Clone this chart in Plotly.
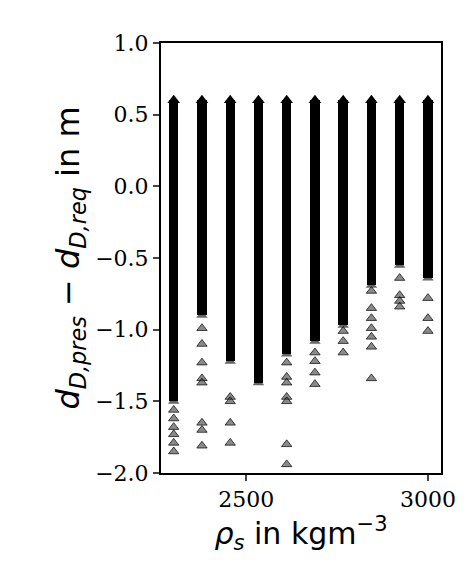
import plotly.graph_objects as go

rho = [2300, 2377.8, 2455.6, 2533.3, 2611.1, 2688.9, 2766.7, 2844.4, 2922.2, 3000]
dense_top = [0.6]*10
dense_bottom = [-1.5, -0.9, -1.22, -1.37, -1.17, -1.08, -0.97, -0.69, -0.55, -0.64]
outliers = [
    [-1.56, -1.62, -1.68, -1.73, -1.79, -1.85],
    [-0.99, -1.1, -1.23, -1.34, -1.37, -1.65, -1.70, -1.81],
    [-1.47, -1.5, -1.65, -1.79],
    [],
    [-1.23, -1.33, -1.37, -1.47, -1.5, -1.80, -1.94],
    [-1.16, -1.22, -1.30, -1.38],
    [-1.01, -1.08, -1.16],
    [-0.73, -0.85, -0.92, -0.99, -1.05, -1.12, -1.34],
    [-0.64, -0.76, -0.80, -0.84],
    [-0.78, -0.92, -1.01],
]

fig = go.Figure()
fig.add_trace(go.Bar(x=rho, y=[t - b for t, b in zip(dense_top, dense_bottom)], base=dense_bottom,
                     width=26, marker=dict(color="black", line=dict(width=0)), showlegend=False))
fig.add_trace(go.Scatter(x=rho, y=dense_top, mode="markers",
                         marker=dict(symbol="triangle-up", size=11, color="black"), showlegend=False))
fig.add_trace(go.Scatter(x=rho, y=dense_bottom, mode="markers",
                         marker=dict(symbol="triangle-up", size=10, color="rgba(0,0,0,0.6)"), showlegend=False))
ox, oy = [], []
for x, vals in zip(rho, outliers):
    for v in vals:
        ox.append(x); oy.append(v)
fig.add_trace(go.Scatter(x=ox, y=oy, mode="markers",
                         marker=dict(symbol="triangle-up", size=9, color="rgba(60,60,60,0.6)",
                                     line=dict(color="rgba(0,0,0,0.7)", width=1)), showlegend=False))

serif = "DejaVu Serif"
fig.update_layout(
    width=474, height=585, plot_bgcolor="white", paper_bgcolor="white",
    margin=dict(l=153, r=41, t=35, b=120, autoexpand=False), bargap=0,
    xaxis=dict(range=[2265, 3036], tickvals=[2500, 3000], ticks="outside", ticklen=6, tickwidth=2,
               automargin=False,
               showline=True, linecolor="black", linewidth=2, mirror=True, showgrid=False, zeroline=False,
               tickfont=dict(family=serif, size=22, color="black"),
               title=dict(text="<i>ρ</i><sub><i>s</i></sub> in kgm<sup>−3</sup>",
                          font=dict(family="DejaVu Sans", size=30, color="black"), standoff=6)),
    yaxis=dict(range=[-2.0, 1.0], tickvals=[-2, -1.5, -1, -0.5, 0, 0.5, 1],
               ticktext=["−2.0", "−1.5", "−1.0", "−0.5", "0.0", "0.5", "1.0"],
               ticks="outside", ticklen=6, tickwidth=2, automargin=False,
               showline=True, linecolor="black", linewidth=2, mirror=True, showgrid=False, zeroline=False,
               tickfont=dict(family=serif, size=22, color="black"),
               title=dict(text="<i>d</i><sub><i>D,pres</i></sub> − <i>d</i><sub><i>D,req</i></sub> in m",
                          font=dict(family="DejaVu Sans", size=32, color="black"), standoff=6)),
)
fig.write_html("out.html")
